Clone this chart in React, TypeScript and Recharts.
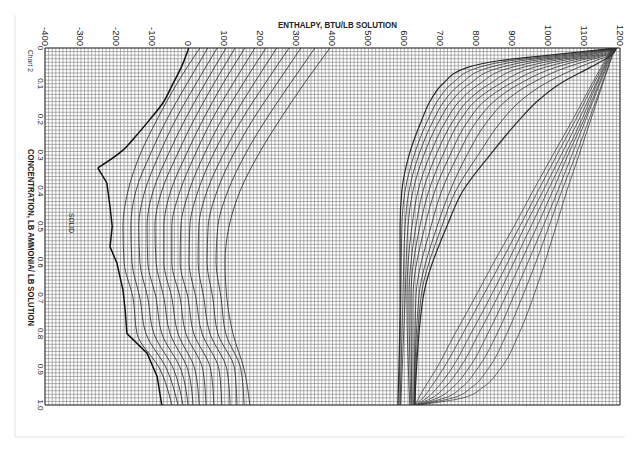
import { CartesianGrid, Line, LineChart, ReferenceArea, XAxis, YAxis } from 'recharts';

const enthalpyLabels = [-400, -300, -200, -100, 0, 100, 200, 300, 400, 500, 600, 700, 800, 900, 1000, 1100, 1200];
const concLabels = [0, 0.1, 0.2, 0.3, 0.4, 0.5, 0.6, 0.7, 0.8, 0.9, 1.0];

// graph paper: a line every 10 Btu and every 0.01 lb/lb
const enthalpyGrid = Array.from({ length: 161 }, (_, i) => -400 + i * 10);
const concGrid = Array.from({ length: 101 }, (_, i) => i / 100);

// freezing (solid) boundary, smooth part down to the cusp, then the kinked part
const freezeUpperConc = [0, 0.05, 0.1, 0.154, 0.2, 0.25, 0.286, 0.336];
const freezeUpperEnthalpy = [0, -19, -44, -72, -108, -150, -183, -253];
const freezeLowerConc = [0.336, 0.378, 0.445, 0.5, 0.557, 0.602, 0.678, 0.734, 0.8, 0.855, 0.92, 1.0];
const freezeLowerEnthalpy = [-253, -228, -219, -213, -219, -200, -183, -177, -172, -116, -88, -75];

// liquid lines, enthalpy at each concentration
const liquidConc = [0, 0.1, 0.2, 0.3, 0.4, 0.5, 0.6, 0.7, 0.8, 0.9, 1.0];
const liquidLines = [
  [31, -33, -88, -136, -169, -183, -180, -155, -144, -80, -47],
  [53, -5, -61, -108, -147, -161, -158, -136, -119, -61, -30],
  [79, 20, -36, -83, -122, -139, -136, -114, -97, -42, -16],
  [104, 45, -10, -58, -99, -116, -114, -91, -75, -22, -2],
  [129, 70, 15, -33, -75, -94, -91, -69, -52, -3, 12],
  [156, 95, 40, -8, -50, -69, -69, -47, -30, 17, 29],
  [184, 123, 65, 17, -24, -47, -47, -24, -8, 39, 48],
  [215, 151, 92, 42, 1, -22, -24, -2, 14, 61, 70],
  [245, 181, 120, 67, 26, 3, 1, 20, 37, 84, 92],
  [279, 212, 148, 95, 51, 28, 26, 42, 59, 106, 115],
  [312, 245, 179, 123, 79, 54, 51, 67, 81, 128, 134],
  [351, 282, 215, 156, 109, 81, 76, 90, 103, 145, 154],
  [393, 321, 254, 193, 143, 112, 101, 106, 123, 154, 170],
];

// saturated vapour lines
const vaporConc = [0, 0.02, 0.035, 0.055, 0.1, 0.15, 0.2, 0.3, 0.4, 0.5, 0.7, 1.0];
const vaporLines = [
  [1190, 1005, 866, 774, 707, 671, 649, 613, 593, 588, 588, 582],
  [1190, 1033, 899, 805, 732, 691, 666, 627, 602, 593, 590, 585],
  [1190, 1055, 930, 835, 757, 710, 682, 640, 613, 602, 596, 588],
  [1190, 1077, 960, 866, 782, 730, 699, 654, 624, 610, 602, 590],
  [1190, 1097, 988, 896, 810, 752, 718, 671, 638, 621, 607, 615],
  [1190, 1113, 1016, 927, 838, 774, 738, 688, 652, 632, 613, 618],
  [1190, 1130, 1041, 958, 866, 796, 757, 707, 668, 643, 618, 621],
  [1190, 1144, 1066, 988, 894, 821, 780, 727, 685, 657, 624, 624],
  [1190, 1155, 1088, 1019, 921, 849, 805, 749, 704, 674, 632, 627],
  [1190, 1163, 1111, 1049, 952, 880, 835, 774, 727, 691, 640, 627],
  [1190, 1172, 1133, 1083, 991, 921, 874, 805, 743, 704, 646, 629],
  [1190, 1177, 1152, 1116, 1033, 969, 921, 838, 763, 718, 652, 629],
];

// auxiliary (dew point) lines
const dewConc = [0, 0.1, 0.2, 0.3, 0.4, 0.5, 0.6, 0.7, 0.8, 0.9, 0.95, 0.98, 1.0];
const dewLines = [
  [1177, 1122, 1069, 1013, 958, 905, 849, 796, 741, 688, 657, 640, 629],
  [1180, 1127, 1077, 1024, 972, 921, 869, 816, 763, 707, 674, 652, 629],
  [1180, 1133, 1086, 1036, 986, 935, 888, 838, 785, 730, 693, 663, 632],
  [1183, 1136, 1094, 1047, 999, 952, 905, 858, 807, 752, 713, 677, 632],
  [1183, 1141, 1100, 1055, 1013, 969, 924, 880, 832, 777, 735, 693, 635],
  [1186, 1144, 1105, 1066, 1027, 986, 944, 902, 858, 802, 760, 713, 635],
  [1186, 1150, 1114, 1077, 1038, 1002, 966, 927, 885, 832, 788, 735, 638],
  [1186, 1152, 1119, 1086, 1052, 1022, 991, 958, 919, 866, 819, 763, 638],
];

const FONT = "'Liberation Sans', Arial, Helvetica, sans-serif";

const pts = (conc: number[], h: number[]) => conc.map((c, i) => ({ c, h: h[i] }));

type Curve = { key: string; data: { c: number; h: number }[]; width: number; color: string; linear?: boolean };

const curves: Curve[] = [
  ...liquidLines.map((h, i) => ({ key: `liq${i}`, data: pts(liquidConc, h), width: 0.8, color: '#262626' })),
  ...vaporLines.map((h, i) => ({
    key: `vap${i}`,
    data: pts(vaporConc, h),
    width: i === 0 || i === vaporLines.length - 1 ? 1.2 : 0.75,
    color: '#2a2a2a',
  })),
  ...dewLines.map((h, i) => ({ key: `dew${i}`, data: pts(dewConc, h), width: 0.7, color: '#333' })),
  { key: 'freezeUpper', data: pts(freezeUpperConc, freezeUpperEnthalpy), width: 1.5, color: '#111' },
  { key: 'freezeLower', data: pts(freezeLowerConc, freezeLowerEnthalpy), width: 1.5, color: '#111', linear: true },
];

function EnthalpyTick({ x, payload }: any) {
  if (!enthalpyLabels.includes(payload.value)) return null;
  return (
    <text
      transform={`translate(${x},46) rotate(90)`}
      textAnchor="end"
      dominantBaseline="central"
      fontSize={9.5}
      fontFamily={FONT}
      fill="#222"
    >
      {payload.value}
    </text>
  );
}

function ConcTick({ y, payload }: any) {
  const v = Math.round(payload.value * 100);
  if (!concLabels.some((c) => Math.round(c * 100) === v)) return null;
  return (
    <text
      transform={`translate(40,${y}) rotate(90)`}
      textAnchor="middle"
      dominantBaseline="central"
      fontSize={8}
      fontFamily={FONT}
      fill="#222"
    >
      {v === 0 ? '0' : (v / 100).toFixed(1)}
    </text>
  );
}

export default function App() {
  return (
    <div style={{ position: 'absolute', left: 0, top: 0, width: 638, height: 450, background: '#fff' }}>
      <LineChart
        width={638}
        height={450}
        layout="vertical"
        margin={{ top: 28, right: 18, bottom: 45, left: 25 }}
      >
        <CartesianGrid stroke="#727272" strokeWidth={0.55} />
        <XAxis
          type="number"
          orientation="top"
          domain={[-400, 1200]}
          ticks={enthalpyGrid}
          interval={0}
          height={20}
          axisLine={false}
          tickLine={false}
          tick={<EnthalpyTick />}
          allowDataOverflow
        />
        <YAxis
          type="number"
          dataKey="c"
          domain={[0, 1]}
          ticks={concGrid}
          interval={0}
          width={20}
          axisLine={false}
          tickLine={false}
          tick={<ConcTick />}
          allowDataOverflow
        />
        <ReferenceArea x1={-400} x2={1200} y1={0} y2={1} fill="none" stroke="#333" strokeWidth={1} ifOverflow="visible" />
        {curves.map((s) => (
          <Line
            key={s.key}
            data={s.data}
            dataKey="h"
            type={s.linear ? 'linear' : 'monotone'}
            stroke={s.color}
            strokeWidth={s.width}
            dot={false}
            activeDot={false}
            isAnimationActive={false}
          />
        ))}
      </LineChart>
      <svg
        width={638}
        height={450}
        style={{ position: 'absolute', left: 0, top: 0, pointerEvents: 'none' }}
        fontFamily={FONT}
      >
        <polyline points="15,15 15,437 625,437" fill="none" stroke="#e2e2e2" strokeWidth={1} />
        <text x={278} y={28} fontSize={9} fontWeight="bold" fill="#222" textLength={119} lengthAdjust="spacingAndGlyphs">
          ENTHALPY, BTU/LB SOLUTION
        </text>
        <text
          transform="translate(28,149) rotate(90)"
          fontSize={9}
          fontWeight="bold"
          fill="#222"
          textLength={177}
          lengthAdjust="spacingAndGlyphs"
        >
          CONCENTRATION, LB AMMONIA/ LB SOLUTION
        </text>
        <text transform="translate(28,50) rotate(90)" fontSize={8} fill="#333" textLength={22} lengthAdjust="spacingAndGlyphs">
          Chart 2
        </text>
        <text transform="translate(69,213) rotate(90)" fontSize={6.5} fill="#333" textLength={20} lengthAdjust="spacingAndGlyphs">
          SOLID
        </text>
      </svg>
    </div>
  );
}
